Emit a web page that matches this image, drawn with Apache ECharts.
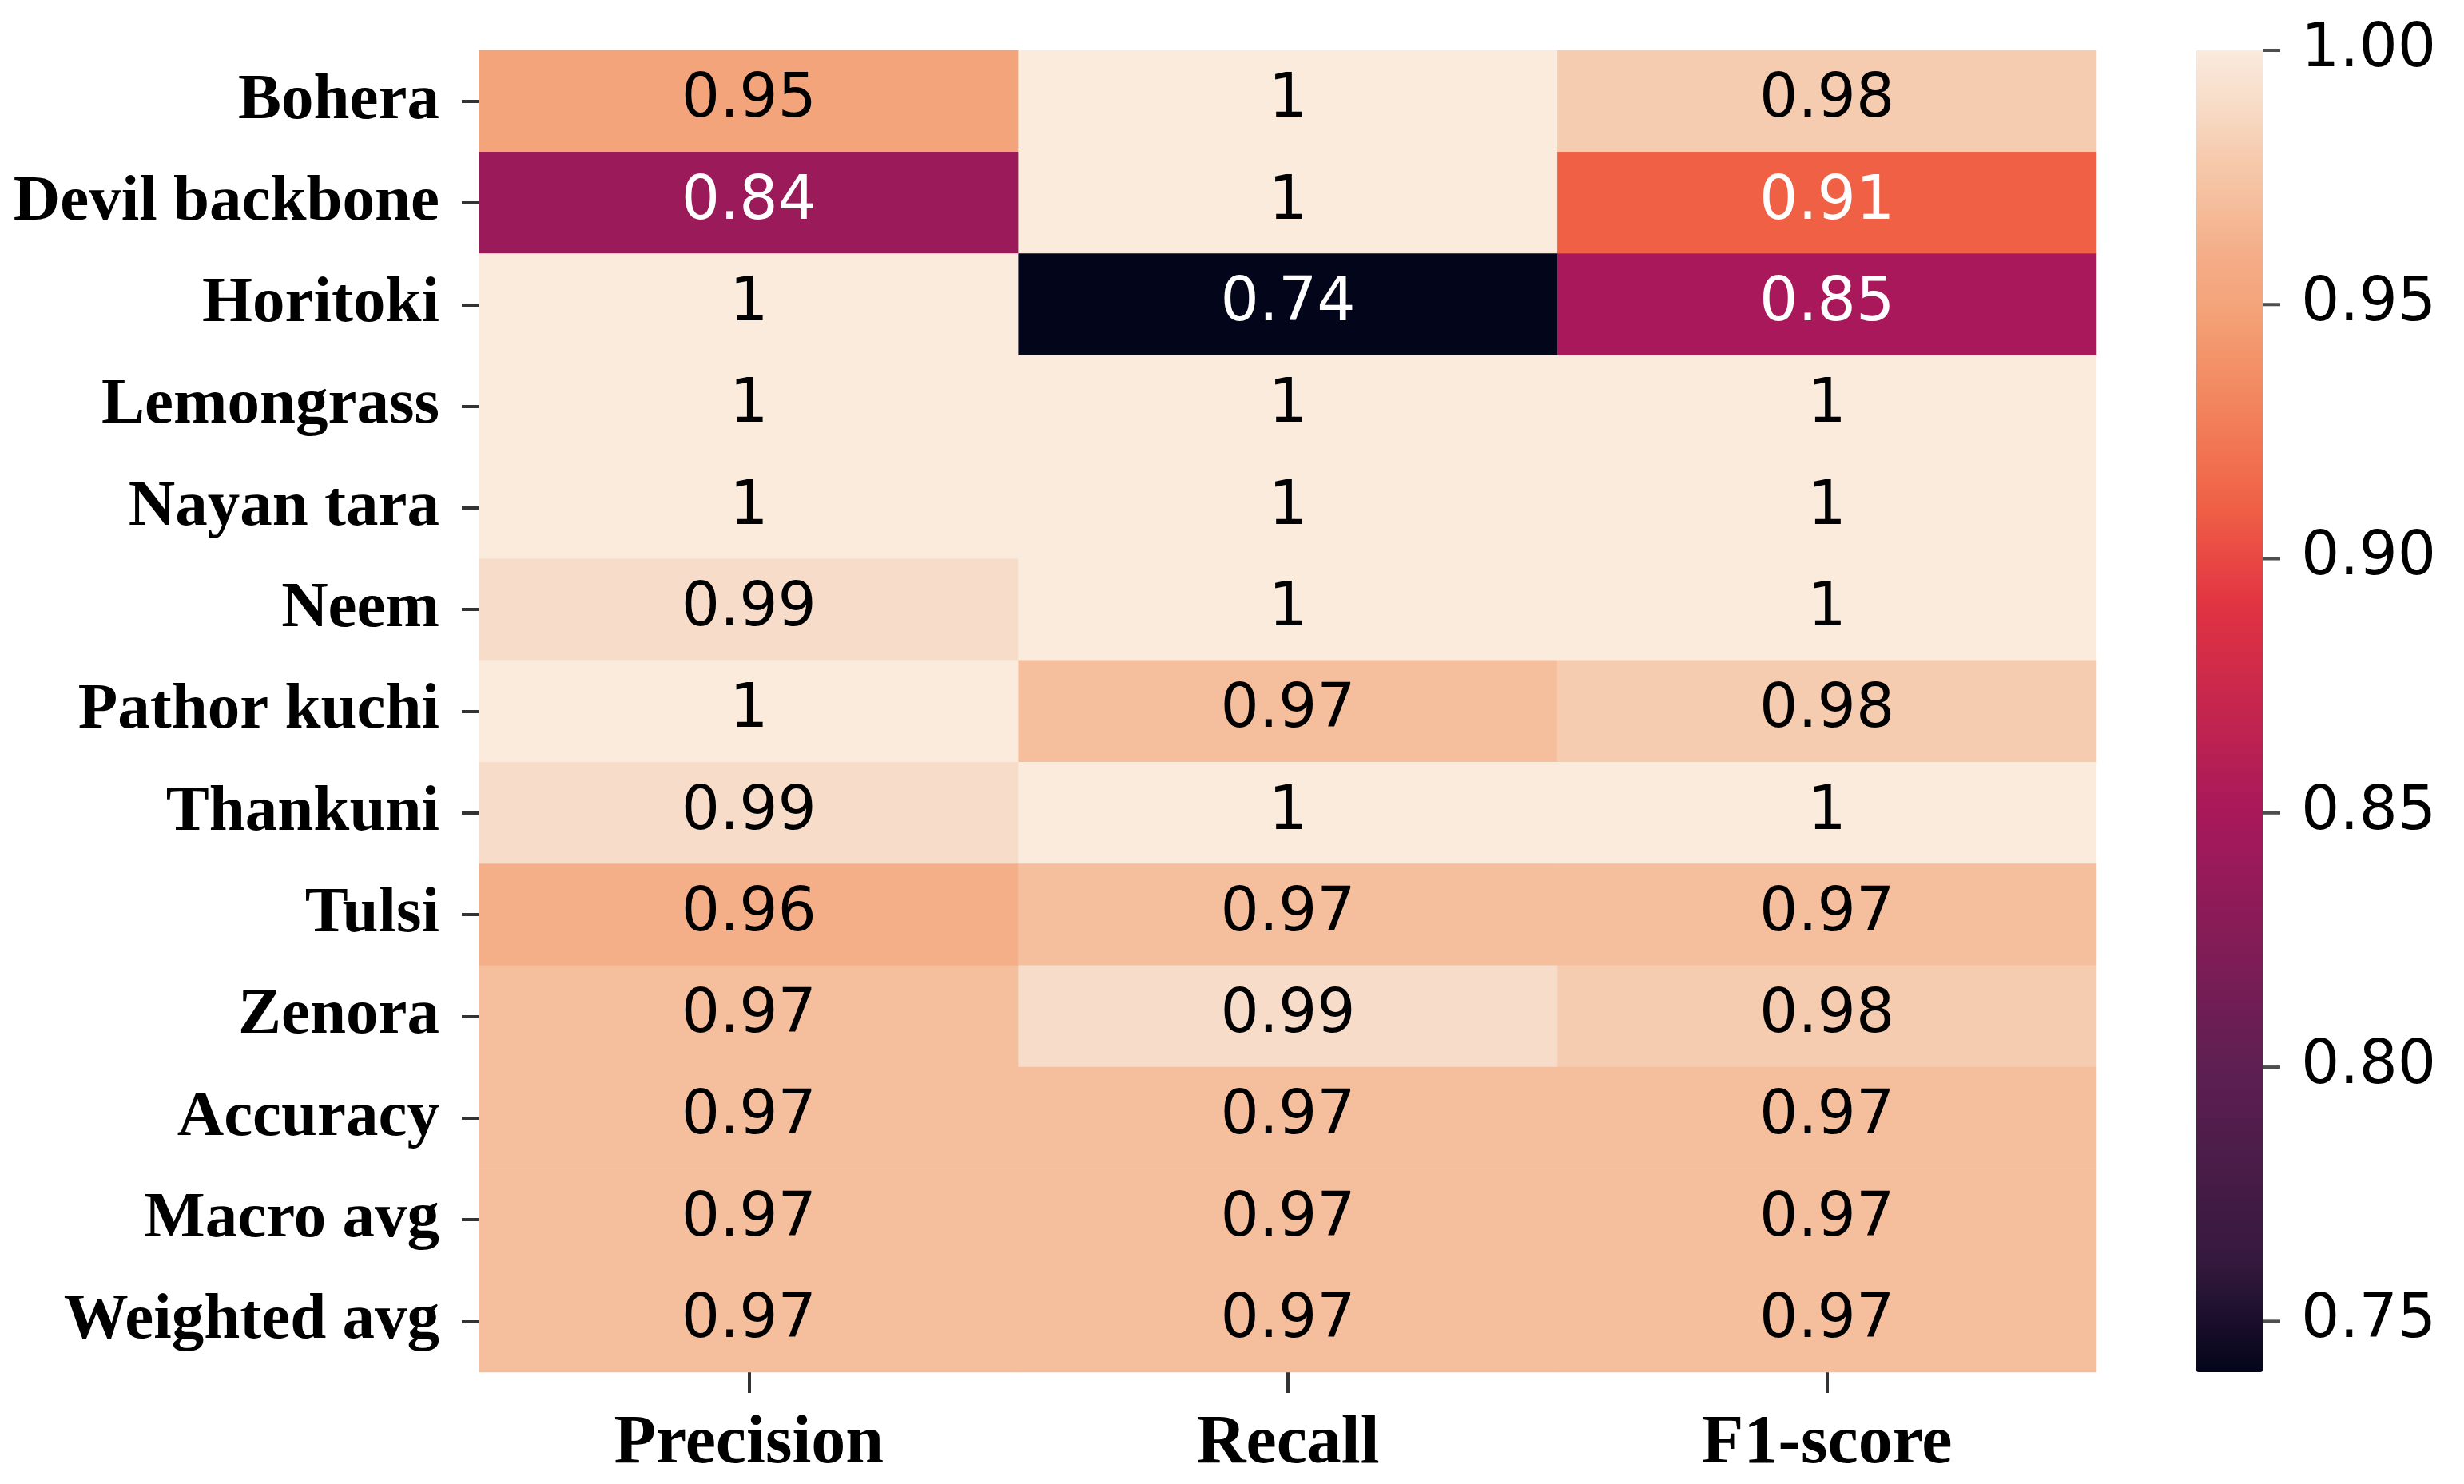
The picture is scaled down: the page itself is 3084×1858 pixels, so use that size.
<!DOCTYPE html>
<html>
<head>
<meta charset="utf-8">
<script src="https://cdn.jsdelivr.net/npm/echarts@6/dist/echarts.min.js"></script>
<style>
html,body{margin:0;padding:0;background:#fff;}
#chart{width:3084px;height:1858px;}
</style>
</head>
<body>
<div id="chart"></div>
<script>
// ---- data ----
const rowLabels = ['Bohera','Devil backbone','Horitoki','Lemongrass','Nayan tara','Neem','Pathor kuchi','Thankuni','Tulsi','Zenora','Accuracy','Macro avg','Weighted avg'];
const colLabels = ['Precision','Recall','F1-score'];
const precision = [0.95,0.84,1,1,1,0.99,1,0.99,0.96,0.97,0.97,0.97,0.97];
const recall    = [1,1,0.74,1,1,1,0.97,1,0.97,0.99,0.97,0.97,0.97];
const f1score   = [0.98,0.91,0.85,1,1,1,0.98,1,0.97,0.98,0.97,0.97,0.97];
const colorbarTicks = [0.75,0.80,0.85,0.90,0.95,1.00];
const vMin = 0.74, vMax = 1.0;

// ---- colour map (rocket-like, fitted to reference) ----
const stops = [[0.0,'#03051A'],[0.083,'#35193E'],[0.23,'#5E1F52'],[0.385,'#9A1A5A'],[0.423,'#A8185A'],
  [0.58,'#E13342'],[0.654,'#EF6045'],[0.73,'#F2845C'],[0.808,'#F4A47A'],[0.846,'#F4AE88'],
  [0.885,'#F5BE9C'],[0.923,'#F6CCB0'],[0.962,'#F7DDC9'],[1.0,'#FAEBDD']];
function hex2rgb(h){return [parseInt(h.substr(1,2),16),parseInt(h.substr(3,2),16),parseInt(h.substr(5,2),16)];}
function sample(t){
  for(let i=0;i<stops.length-1;i++){
    const a=stops[i],b=stops[i+1];
    if(t>=a[0]&&t<=b[0]){
      const u=(t-a[0])/(b[0]-a[0]);const ca=hex2rgb(a[1]),cb=hex2rgb(b[1]);
      return 'rgb('+ca.map((c,k)=>Math.round(c+(cb[k]-c)*u)).join(',')+')';
    }
  }
  return stops[stops.length-1][1];
}
const palette=[];const N=131;
for(let i=0;i<N;i++) palette.push(sample(i/(N-1)));

const cols=[precision,recall,f1score];
const data=[];
cols.forEach((arr,ci)=>arr.forEach((v,ri)=>data.push({value:[ci,ri,v],label:{color:v<0.93?'#ffffff':'#000000'}})));

const serif='"Liberation Serif","DejaVu Serif",serif';
const sans='"DejaVu Sans",sans-serif';

const cbLeft=2749, cbTop=63, cbW=83, cbH=1655;

const chart=echarts.init(document.getElementById('chart'),null,{renderer:'canvas'});
chart.setOption({
  backgroundColor:'#ffffff',
  animation:false,
  grid:[
    {left:600,right:460,top:63,bottom:140},
    {left:cbLeft,width:cbW,top:cbTop,height:cbH}
  ],
  xAxis:[
    {type:'category',data:colLabels,gridIndex:0,position:'bottom',
     axisLine:{show:false},splitLine:{show:false},splitArea:{show:false},
     axisTick:{show:true,alignWithLabel:true,length:26,lineStyle:{color:'#333',width:4}},
     axisLabel:{fontFamily:serif,fontWeight:'bold',fontSize:86,color:'#000',margin:48}},
    {type:'value',gridIndex:1,show:false,min:0,max:1}
  ],
  yAxis:[
    {type:'category',data:rowLabels,gridIndex:0,inverse:true,
     axisLine:{show:false},splitLine:{show:false},splitArea:{show:false},
     axisTick:{show:true,alignWithLabel:true,length:22,lineStyle:{color:'#333',width:4}},
     axisLabel:{fontFamily:serif,fontWeight:'bold',fontSize:81,color:'#000',margin:50}},
    {type:'value',gridIndex:1,min:vMin,max:vMax,position:'right',
     axisLine:{show:false},splitLine:{show:false},
     axisTick:{show:false},
     axisLabel:{show:true,customValues:colorbarTicks,fontFamily:sans,fontSize:76,color:'#000',margin:48,
       formatter:v=>v.toFixed(2)}}
  ],
  visualMap:{
    type:'continuous',min:vMin,max:vMax,calculable:false,show:true,hoverLink:false,
    left:cbLeft,top:cbTop,itemWidth:cbW,itemHeight:cbH,padding:0,
    text:['',''],seriesIndex:0,
    inRange:{color:palette}
  },
  series:[{
    type:'heatmap',xAxisIndex:0,yAxisIndex:0,data:data,
    itemStyle:{borderWidth:0},
    emphasis:{disabled:true},
    label:{show:true,fontFamily:sans,fontSize:76,
      formatter:p=>String(p.value[2])}
  },{
    type:'scatter',xAxisIndex:1,yAxisIndex:1,silent:true,
    data:colorbarTicks.map(v=>[1,v]),
    symbol:'rect',symbolSize:[22,4],symbolOffset:[11,0],
    itemStyle:{color:'#222'},z:5
  }]
});
</script>
</body>
</html>
